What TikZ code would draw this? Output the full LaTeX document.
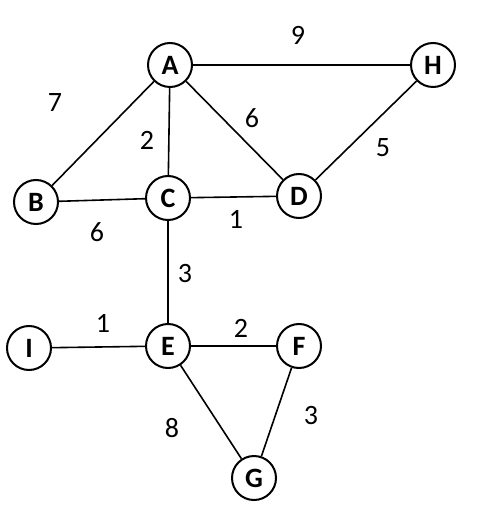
\documentclass[tikz,border=0pt]{standalone}
\usepackage{fontspec}
\setmainfont{Carlito}
\begin{document}
\begin{tikzpicture}[x=1pt,y=-1pt,
  vert/.style={circle,draw,line width=2pt,minimum size=44pt,inner sep=0pt,font=\fontsize{28}{28}\selectfont\bfseries},
  edge/.style={line width=1.6pt},
  wt/.style={font=\fontsize{28}{28}\selectfont}]
\useasboundingbox (0,0) rectangle (478,526);
\node[vert] (A) at (170,65) {A};
\node[vert] (H) at (433,65) {H};
\node[vert] (B) at (36,202) {B};
\node[vert] (C) at (168,198) {C};
\node[vert] (D) at (299,196) {D};
\node[vert] (I) at (29,348) {I};
\node[vert] (E) at (168,346) {E};
\node[vert] (F) at (299,346) {F};
\node[vert] (G) at (254,478) {G};
\draw[edge] (A) -- (H);
\draw[edge] (A) -- (B);
\draw[edge] (A) -- (C);
\draw[edge] (A) -- (D);
\draw[edge] (H) -- (D);
\draw[edge] (B) -- (C);
\draw[edge] (C) -- (D);
\draw[edge] (C) -- (E);
\draw[edge] (I) -- (E);
\draw[edge] (E) -- (F);
\draw[edge] (E) -- (G);
\draw[edge] (F) -- (G);
\node[wt] (w1) at (298,35) {9};
\node[wt] (w2) at (55,103) {7};
\node[wt] (w3) at (252,118) {6};
\node[wt] (w4) at (383,148) {5};
\node[wt] (w5) at (147,140) {2};
\node[wt] (w6) at (97,232) {6};
\node[wt] (w7) at (236,219) {1};
\node[wt] (w8) at (185,274) {3};
\node[wt] (w9) at (103,323) {1};
\node[wt] (w10) at (241,328) {2};
\node[wt] (w11) at (172,428) {8};
\node[wt] (w12) at (311,416) {3};
\end{tikzpicture}
\end{document}
